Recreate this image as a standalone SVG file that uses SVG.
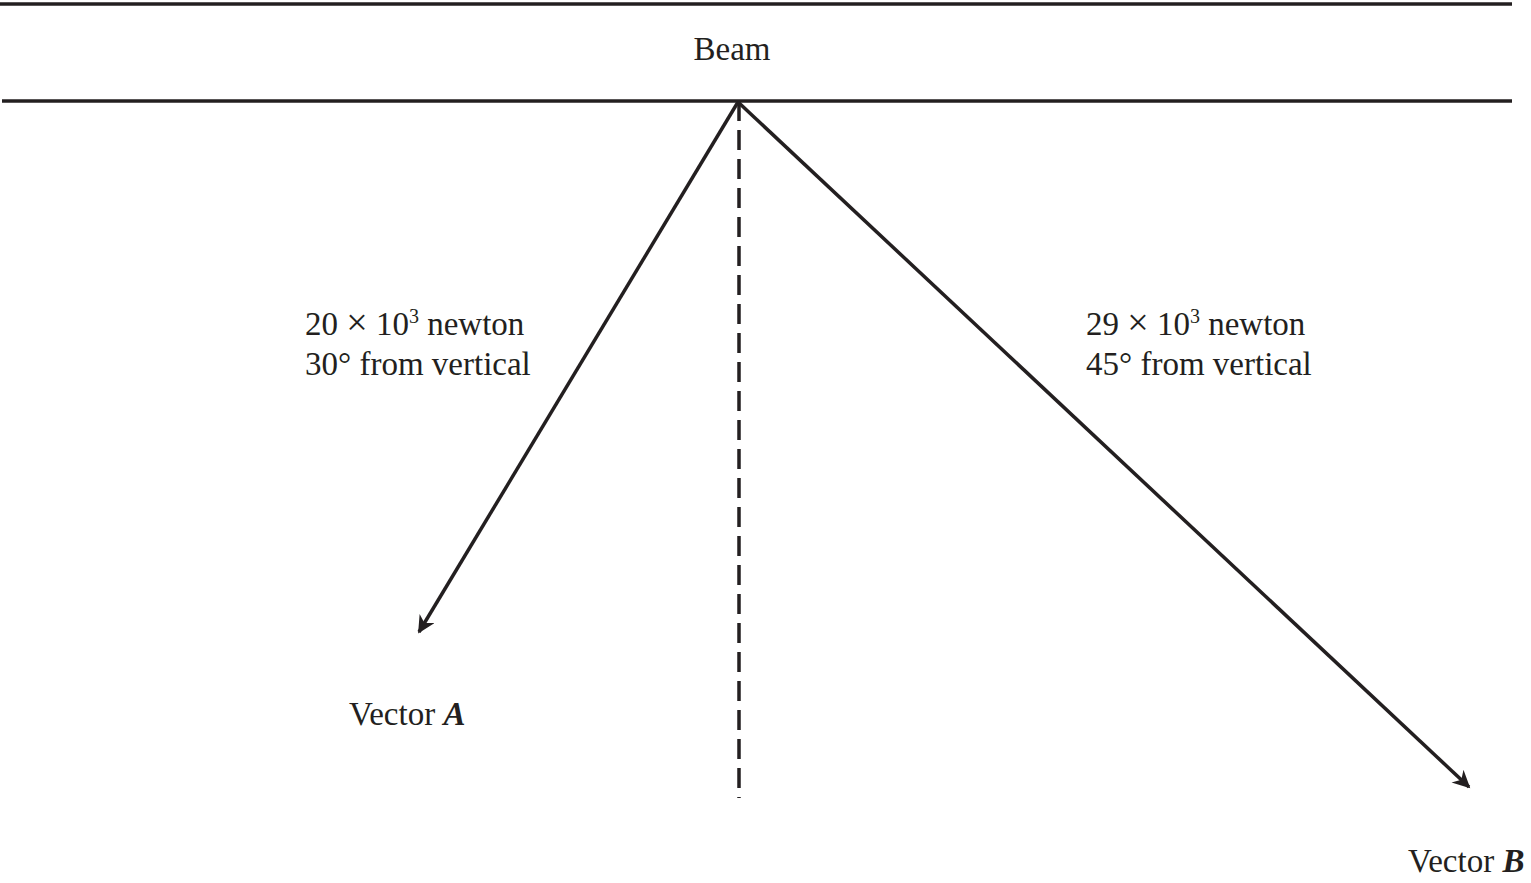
<svg xmlns="http://www.w3.org/2000/svg" width="1531" height="883" viewBox="0 0 1531 883">
<style>
.t{font-family:"Liberation Serif",serif;font-size:33px;fill:#231f20}
.l{stroke:#231f20;stroke-width:3.5;fill:none}
</style>
<defs><marker id="ah" viewBox="0 0 10 10" refX="9" refY="5" markerWidth="6" markerHeight="5" orient="auto" markerUnits="strokeWidth"><path d="M0,0 L10,5 L0,10 L3,5 z" fill="#231f20"/></marker></defs>
<rect width="1531" height="883" fill="#fff"/>
<g id="beam">
<line class="l" x1="0" y1="4" x2="1512" y2="4"/>
<line class="l" x1="2" y1="101" x2="1512" y2="101"/>
<text class="t" x="732" y="60" text-anchor="middle">Beam</text>
</g>
<g id="connectors">
<line class="l" x1="739" y1="101" x2="739" y2="798" stroke-width="1.8" stroke-dasharray="20,9"/>
<line class="l" x1="738" y1="102" x2="419" y2="632" marker-end="url(#ah)"/>
<line class="l" x1="738" y1="102" x2="1469" y2="787" marker-end="url(#ah)"/>
</g>
<g id="labelA">
<text class="t" x="305" y="335">20 <tspan font-size="38">×</tspan> 10<tspan font-size="20" dy="-12">3</tspan><tspan dy="12"> newton</tspan></text>
<text class="t" x="305" y="375">30° from vertical</text>
<text class="t" x="349" y="725">Vector <tspan font-weight="bold" font-style="italic">A</tspan></text>
</g>
<g id="labelB">
<text class="t" x="1086" y="335">29 <tspan font-size="38">×</tspan> 10<tspan font-size="20" dy="-12">3</tspan><tspan dy="12"> newton</tspan></text>
<text class="t" x="1086" y="375">45° from vertical</text>
<text class="t" x="1408" y="872">Vector <tspan font-weight="bold" font-style="italic">B</tspan></text>
</g>
</svg>
